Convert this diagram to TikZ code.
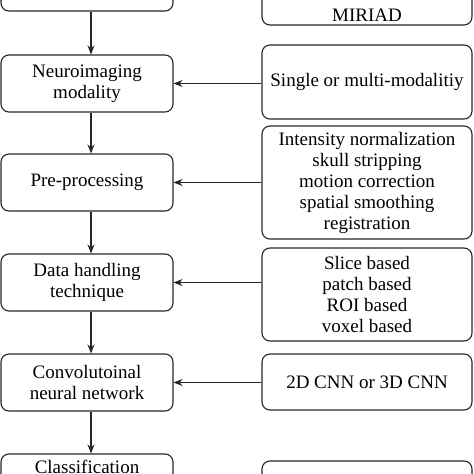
\documentclass[tikz,border=0pt]{standalone}
\usepackage{fontspec}
\setmainfont{Liberation Serif}
\usetikzlibrary{arrows.meta}
\begin{document}
\begin{tikzpicture}[x=1pt,y=-1pt,
  box/.style={draw=black!85, line width=1.1pt, rounded corners=8pt, align=center,
    font=\fontsize{19}{21}\selectfont, inner sep=0pt},
  lbox/.style={box, minimum width=172pt, minimum height=57pt},
  rbox/.style={box, minimum width=210pt},
  txt/.style={font=\fontsize{19}{21}\selectfont, inner sep=0pt},
  arr/.style={draw=black!85, line width=1.1pt, -{Stealth[length=9pt,width=7pt]}}]
\useasboundingbox (0,0) rectangle (474,474);
\clip (0,0) rectangle (474,474);
\coordinate (ax) at (91,0);
% left column
\node[lbox] (top) at (87,-17.5) {};
\node[lbox] (neuro) at (87,83.5) {Neuroimaging\\modality};
\node[lbox] (pre) at (87,182.5) {Pre-processing};
\node[lbox] (data) at (87,282.5) {Data handling\\technique};
\node[lbox] (conv) at (87,382.5) {Convolutoinal\\neural network};
\node[lbox, text height=12pt, text depth=31pt] (class) at (87,482.5) {Classification};
% right column
\node[rbox, minimum height=100pt] (rtop) at (367,-25) {};
\node[txt, anchor=base] (miriad) at (367,21) {MIRIAD};
\node[rbox, minimum height=74pt] (single) at (367,82) {Single or multi-modalitiy};
\node[rbox, minimum height=113pt] (intens) at (367,182.5) {Intensity normalization\\skull stripping\\motion correction\\spatial smoothing\\registration};
\node[rbox, minimum height=93pt] (slice) at (367,294.5) {Slice based\\patch based\\ROI based\\voxel based};
\node[rbox, minimum height=56pt] (cnn) at (367,382) {2D CNN or 3D CNN};
\node[rbox, minimum height=80pt] (rbot) at (367,501) {};
% vertical arrows
\draw[arr] (top.south -| ax) -- (neuro.north -| ax);
\draw[arr] (neuro.south -| ax) -- (pre.north -| ax);
\draw[arr] (pre.south -| ax) -- (data.north -| ax);
\draw[arr] (data.south -| ax) -- (conv.north -| ax);
\draw[arr] (conv.south -| ax) -- (class.north -| ax);
% horizontal arrows
\draw[arr] (single.west |- neuro.east) -- (neuro.east);
\draw[arr] (intens.west |- pre.east) -- (pre.east);
\draw[arr] (slice.west |- data.east) -- (data.east);
\draw[arr] (cnn.west |- conv.east) -- (conv.east);
\end{tikzpicture}
\end{document}
